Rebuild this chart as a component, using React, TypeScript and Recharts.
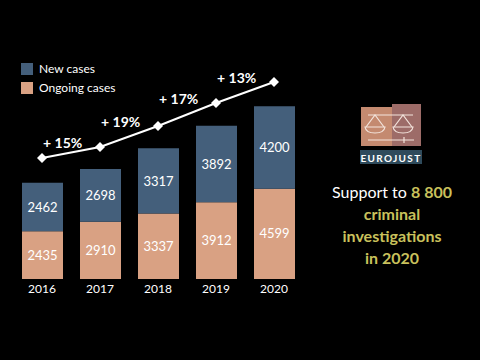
import React from 'react';
import { ComposedChart, Bar, Line, XAxis, YAxis, LabelList, Legend } from 'recharts';

const years = ['2016', '2017', '2018', '2019', '2020'];
const newCases = [2462, 2698, 3317, 3892, 4200];
const ongoingCases = [2435, 2910, 3337, 3912, 4599];
const trendLine = [6160, 6720, 7790, 8960, 10030];
const growthLabels = ['', '+ 15%', '+ 19%', '+ 17%', '+ 13%'];

const data = years.map((year, i) => ({
  year,
  ongoing: ongoingCases[i],
  newc: newCases[i],
  trend: trendLine[i],
  growth: growthLabels[i],
}));

const BLUE = '#445f7b';
const TAN = '#d9a183';
const FONT = 'Lato, "Open Sans", sans-serif';
const YELLOW = '#c9c15c';

const Diamond = (props: any) => {
  const { cx, cy } = props;
  if (cx == null || cy == null) return null;
  const r = 5;
  return (
    <polygon
      points={`${cx},${cy - r} ${cx + r},${cy} ${cx},${cy + r} ${cx - r},${cy}`}
      fill="#ffffff"
    />
  );
};

const GrowthLabel = (props: any) => {
  const { x, y, value } = props;
  if (!value) return null;
  return (
    <text
      x={Number(x) - 57}
      y={Number(y) - 5}
      fill="#ffffff"
      fontSize={14}
      fontWeight={700}
      fontFamily={FONT}
      textAnchor="start"
      dominantBaseline="central"
    >
      {value}
    </text>
  );
};

const legendItems = [
  { label: 'New cases', color: BLUE },
  { label: 'Ongoing cases', color: TAN },
];

const LegendContent = () => (
  <div style={{ fontFamily: FONT, fontSize: 12, color: '#ffffff' }}>
    {legendItems.map((it) => (
      <div key={it.label} style={{ display: 'flex', alignItems: 'center', height: 19 }}>
        <div style={{ width: 12, height: 12, background: it.color, marginRight: 6 }} />
        <span>{it.label}</span>
      </div>
    ))}
  </div>
);

const Logo = () => (
  <svg width={64} height={62} style={{ display: 'block', margin: '0 auto' }}>
    <rect x={1} y={3} width={31} height={39} fill="#c48a70" />
    <rect x={32} y={0} width={29} height={42} fill="#9d6c68" />
    <g stroke="#f3e4dc" strokeWidth={1.2} fill="none">
      <line x1={8} y1={11} x2={53} y2={11} />
      <polyline points="6,23 15,11 24,23" />
      <path d="M5,23 L25,23 Q24,29 15,29 Q6,29 5,23 Z" />
      <polyline points="34,23 43,11 52,23" />
      <path d="M33,23 L53,23 Q52,29 43,29 Q34,29 33,23 Z" />
      <line x1={8} y1={36} x2={54} y2={36} />
      <line x1={44} y1={33} x2={44} y2={39} />
    </g>
    <rect x={0} y={46} width={62} height={14} fill="#2f4b5c" />
    <text
      x={31}
      y={53.5}
      fill="#ffffff"
      fontSize={10}
      fontWeight={700}
      fontFamily={FONT}
      textAnchor="middle"
      dominantBaseline="central"
      letterSpacing={1.3}
    >
      EUROJUST
    </text>
  </svg>
);

export default function App() {
  return (
    <div
      style={{
        position: 'absolute',
        left: 0,
        top: 0,
        width: 480,
        height: 360,
        background: '#000000',
        overflow: 'hidden',
      }}
    >
      <ComposedChart
        width={480}
        height={360}
        data={data}
        margin={{ top: 63, right: 177, left: 13, bottom: 0 }}
      >
        <XAxis
          dataKey="year"
          height={81}
          axisLine={false}
          tickLine={false}
          tickSize={0}
          tickMargin={5}
          tick={{ fill: '#ffffff', fontSize: 12, fontFamily: FONT }}
        />
        <YAxis hide domain={[0, 11000]} />
        <Legend
          layout="vertical"
          align="center"
          verticalAlign="middle"
          wrapperStyle={{ position: 'absolute', left: 21, top: 59, width: 120 }}
          content={<LegendContent />}
        />
        <Bar dataKey="ongoing" stackId="a" fill={TAN} barSize={41} isAnimationActive={false}>
          <LabelList
            dataKey="ongoing"
            position="center"
            fill="#ffffff"
            fontSize={13}
            fontFamily={FONT}
          />
        </Bar>
        <Bar dataKey="newc" stackId="a" fill={BLUE} barSize={41} isAnimationActive={false}>
          <LabelList
            dataKey="newc"
            position="center"
            fill="#ffffff"
            fontSize={13}
            fontFamily={FONT}
          />
        </Bar>
        <Line
          dataKey="trend"
          stroke="#ffffff"
          strokeWidth={2}
          dot={<Diamond />}
          activeDot={false}
          isAnimationActive={false}
        >
          <LabelList dataKey="growth" content={<GrowthLabel />} />
        </Line>
      </ComposedChart>
      <div
        style={{
          position: 'absolute',
          left: 320,
          top: 104,
          width: 144,
          textAlign: 'center',
          fontFamily: FONT,
          fontSize: 16,
          lineHeight: '22px',
          color: YELLOW,
          fontWeight: 700,
        }}
      >
        <Logo />
        <div style={{ marginTop: 15 }}>
          <span style={{ color: '#ffffff', fontWeight: 400 }}>Support to </span>
          <span>8 800</span>
        </div>
        <div>criminal</div>
        <div>investigations</div>
        <div>in 2020</div>
      </div>
    </div>
  );
}
